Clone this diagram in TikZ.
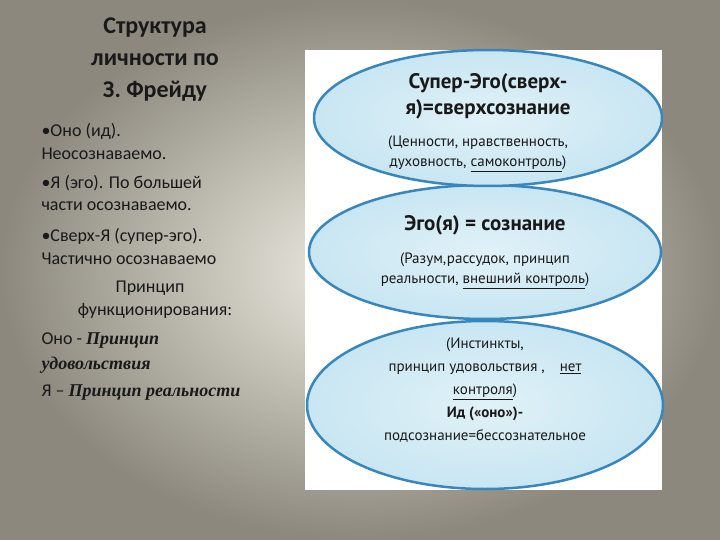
\documentclass[tikz,border=0pt]{standalone}
\usepackage{fontspec}
\setmainfont{Carlito}
\newfontfamily\narrowfont{PT Sans}
\newfontfamily\timesfont{Liberation Serif}
\usetikzlibrary{shapes.geometric, positioning}
\definecolor{bgmid}{RGB}{238,236,226}
\definecolor{bgedge}{RGB}{140,136,126}
\definecolor{ellfill}{RGB}{200,230,242}
\definecolor{ellline}{RGB}{55,135,190}
\definecolor{txtgrey}{RGB}{25,25,25}
\tikzset{
  layer/.style={ellipse, draw=ellline, line width=2.5pt, inner color=ellfill!55, outer color=ellfill},
  body/.style={anchor=west, font=\fontsize{18}{21}\selectfont, text=txtgrey},
  etext/.style={align=center, text=txtgrey, font=\narrowfont\fontsize{15}{20}\selectfont}
}
\begin{document}
\begin{tikzpicture}[x=1pt, y=-1pt]
        % Background
        \path[inner color=bgmid, outer color=bgedge] (0,0) rectangle (720,540);
        \useasboundingbox (0,0) rectangle (720,540);
        \fill[white] (305,50) rectangle (662,490);

        % Left text
        \node[font=\bfseries\fontsize{24}{32}\selectfont, align=center, text=txtgrey] (title) at (155,60) {Структура\\личности по\\З. Фрейду};
        \node[body] (b1a) at (38,131) {•Оно (ид).};
        \node[body] (b1b) at (38,154) {Неосознаваемо.};
        \node[body] (b2a) at (38,183) {•Я (эго). По большей};
        \node[body] (b2b) at (38,206) {части осознаваемо.};
        \node[body] (b3a) at (38,236) {•Сверх-Я (супер-эго).};
        \node[body] (b3b) at (38,259) {Частично осознаваемо};
        \node[body, anchor=center] (pr1) at (150,288) {Принцип};
        \node[body, anchor=center] (pr2) at (155,311) {функционирования:};
        \node[body] (id1) at (38,341) {Оно - \textbf{\textit{\timesfont Принцип}}};
        \node[body] (id2) at (38,365) {\textbf{\textit{\timesfont удовольствия}}};
        \node[body] (ego) at (38,393) {Я -- \textbf{\textit{\timesfont Принцип реальности}}};

        % Layers
        \node[layer, minimum width=356pt, minimum height=168pt] (idl) at (485,405) {};
        \node[layer, minimum width=352pt, minimum height=134pt] (egol) at (485,252) {};
        \node[layer, minimum width=348pt, minimum height=136pt] (superl) at (488,118) {};

        \node[etext, font=\narrowfont\bfseries\fontsize{21}{26}\selectfont] (supt) at (488,96) {Супер-Эго(сверх-\\я)=сверхсознание};
        \node[etext] (supd) at (478,154) {(Ценности, нравственность,\\духовность, \underline{самоконтроль})};
        \node[etext, font=\narrowfont\bfseries\fontsize{21}{26}\selectfont] (egot) at (485,225) {Эго(я) = сознание};
        \node[etext] (egod) at (485,271) {(Разум,рассудок, принцип\\реальности, \underline{внешний контроль})};
        \node[etext, font=\narrowfont\fontsize{15}{23}\selectfont] (idd) at (485,390) {(Инстинкты,\\принцип удовольствия ,\quad \underline{нет}\\\underline{контроля})\\\textbf{Ид («оно»)-}\\подсознание=бессознательное};
\end{tikzpicture}
\end{document}
